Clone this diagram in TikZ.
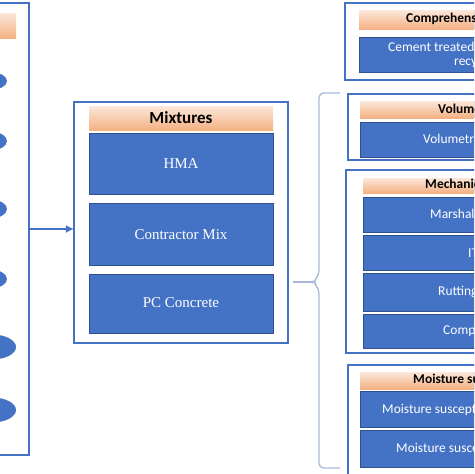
\documentclass[tikz,border=0pt]{standalone}
\usepackage{fontspec}
\setmainfont{Liberation Serif}
\newfontfamily\calibri{Carlito}
\usetikzlibrary{arrows.meta}
\usepackage{xcolor}
\definecolor{office}{HTML}{4472C4}
\definecolor{officedark}{HTML}{2F528F}
\definecolor{peach}{HTML}{F4B183}
\definecolor{bracecol}{HTML}{A9B8DA}

\begin{document}
\begin{tikzpicture}[x=0.03cm, y=-0.03cm,
		frame/.style={draw=office, line width=1.6pt},
		header/.style={top color=peach!30!white, bottom color=peach},
		cell/.style={fill=office, draw=officedark, line width=0.4pt},
		headtext/.style={font=\calibri\bfseries\fontsize{11.5}{13}\selectfont, anchor=west, inner sep=0pt},
		celltext/.style={font=\calibri\fontsize{11.5}{13}\selectfont, text=white, anchor=west, inner sep=0pt},
		mixtext/.style={font=\fontsize{12.8}{14}\selectfont, text=white}
	]
		\useasboundingbox (0,0) rectangle (474,474);
		\clip (0,0) rectangle (474,474);
		%
		% left panel
		\begin{scope}
			\draw [frame] (-20,3) rectangle (29,455);
			\fill [header] (-20,13) rectangle (16,38);
			\foreach \yy/\rx/\ry in {81/15/8.5, 141/15/9, 209/15/9, 279/15/9, 347/24/12.5, 410/24/12.5}
				\fill [office] (-8,\yy) ellipse [x radius=\rx, y radius=\ry];
			\coordinate (leftpanel) at (29,229);
		\end{scope}
		%
		% mixtures
		\begin{scope}
			\draw [frame] (74,102) rectangle (288,343);
			\fill [header] (89,106) rectangle (273,130);
			\node [font=\calibri\bfseries\fontsize{14.5}{16}\selectfont] (mixhead) at (181,118) {Mixtures};
			\draw [cell] (89,133) rectangle (273,194);
			\draw [cell] (89,203) rectangle (273,265);
			\draw [cell] (89,274) rectangle (273,333);
			\node [mixtext] (hma) at (181,164) {HMA};
			\node [mixtext] (contractor) at (181,235) {Contractor Mix};
			\node [mixtext] (pcc) at (181,303) {PC Concrete};
			\coordinate (mixpanel) at (74,229);
		\end{scope}
		%
		\draw [office, line width=1.4pt, -{Latex[length=7pt,width=7pt]}] (leftpanel) -- (mixpanel);
		%
		% brace
		\draw [bracecol, line width=1.1pt, rounded corners=4] (340,93) -- (319,93) -- (319,275) -- (313,282) -- (319,289) -- (319,468) -- (340,468);
		\draw [bracecol, line width=1.1pt] (313,282) -- (293,282);
		%
		% tests
		\begin{scope}
			\draw [frame] (345,3) rectangle (490,80);
			\fill [header] (359,10) rectangle (490,29);
			\draw [cell] (359,37) rectangle (490,72);
			\node [headtext] (comphead) at (406,19) {Comprehensive strength};
			\node [celltext] (cement) at (388,47) {Cement treated base with reclaimed};
			\node [celltext] (recycled) at (454,62) {recycled asphalt};
		\end{scope}
		%
		\begin{scope}
			\draw [frame] (348,94) rectangle (490,160);
			\fill [header] (360,101) rectangle (490,118);
			\draw [cell] (360,122) rectangle (490,157);
			\node [headtext] (volhead) at (438,110) {Volumetric properties};
			\node [celltext] (vol) at (423,140) {Volumetric analysis};
		\end{scope}
		%
		\begin{scope}
			\draw [frame] (346,170) rectangle (490,353);
			\fill [header] (363,178) rectangle (490,193);
			\draw [cell] (363,197) rectangle (490,232);
			\draw [cell] (363,235) rectangle (490,270);
			\draw [cell] (363,273) rectangle (490,311);
			\draw [cell] (363,314) rectangle (490,348);
			\node [headtext] (mechhead) at (425,185) {Mechanical properties};
			\node [celltext] (marshall) at (430,215) {Marshall stability};
			\node [celltext] (its) at (468,253) {ITS};
			\node [celltext] (rutting) at (438,292) {Rutting resistance};
			\node [celltext] (compr) at (443,331) {Compression test};
		\end{scope}
		%
		\begin{scope}
			\draw [frame] (348,365) rectangle (490,490);
			\fill [header] (360,372) rectangle (490,389);
			\draw [cell] (360,391) rectangle (490,427);
			\draw [cell] (360,430) rectangle (490,467);
			\node [headtext] (moisthead) at (413,380) {Moisture susceptibility};
			\node [celltext] (moist) at (382,410) {Moisture susceptibility (TSR)};
			\node [celltext] (moisttest) at (396,449) {Moisture susceptibility test};
		\end{scope}
	\end{tikzpicture}
\end{document}
